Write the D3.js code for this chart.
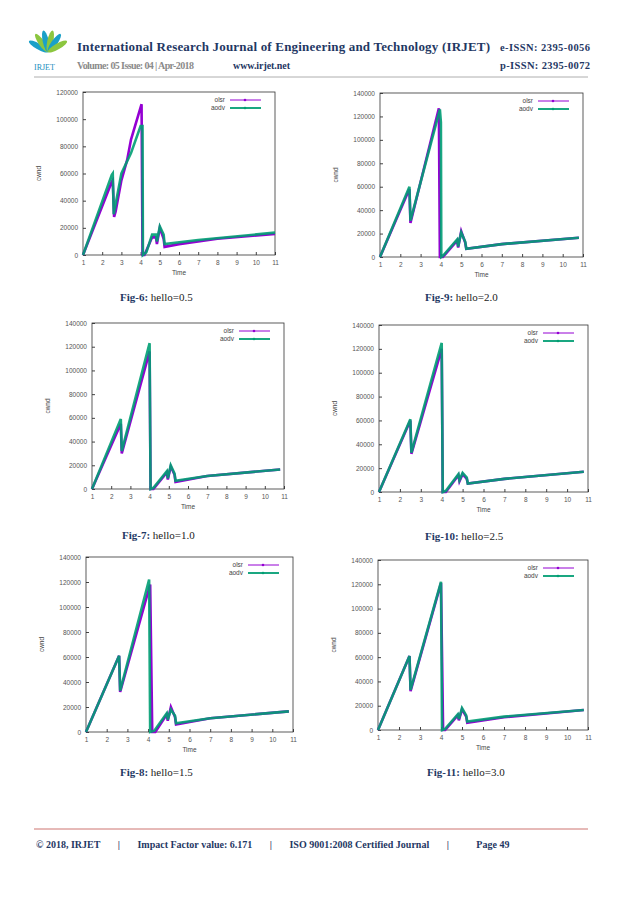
<!DOCTYPE html>
<html><head><meta charset="utf-8">
<script src="https://cdn.jsdelivr.net/npm/d3@7"></script>
<style>body{margin:0;background:#fff}svg{display:block}</style>
</head><body>
<svg id="page" width="638" height="902"></svg>
<script>
// panel data: [time, cwnd] points
const olsr6 = [[1,0],[2.5,54000],[2.55,55000],[2.62,28000],[2.7,32000],[3,55000],[3.3,70000],[3.5,85000],[4.05,111000],[4.1,0],[4.2,0],[4.6,13000],[4.8,13000],[4.85,8000],[5,20000],[5.2,12000],[5.25,6000],[6,8000],[8,12000],[11,15500]]
const aodv6 = [[1,0],[2.5,59000],[2.55,60000],[2.6,30000],[3,60000],[3.5,75000],[4,95000],[4.1,95000],[4.12,0],[4.3,2000],[4.6,15000],[4.8,15000],[4.85,10000],[5,21000],[5.2,15000],[5.25,8000],[7,11000],[11,16500]]
const olsr9 = [[1,0],[2.45,58000],[2.5,29000],[3.9,127000],[3.95,0],[4.1,0],[4.8,14000],[4.85,8000],[5,22000],[5.2,12000],[5.25,7000],[7,11000],[10.8,16500]]
const aodv9 = [[1,0],[2.45,60000],[2.5,31000],[3.95,126000],[4,115000],[4.02,0],[4.1,1000],[4.8,15000],[4.85,9000],[5,21000],[5.2,13000],[5.25,7000],[7,11000],[10.8,16500]]
const olsr7 = [[1,0],[2.5,55000],[2.55,30000],[4,116000],[4.05,0],[4.2,0],[4.9,14000],[4.95,8000],[5.1,19000],[5.3,12000],[5.35,6000],[7,11000],[10.8,16500]]
const aodv7 = [[1,0],[2.5,59000],[2.55,32000],[4,123000],[4.05,0],[4.2,1000],[4.9,15000],[4.95,9000],[5.1,20000],[5.3,13000],[5.35,7000],[7,11000],[10.8,16500]]
const olsr10 = [[1,0],[2.5,60000],[2.55,32000],[4,120000],[4.05,0],[4.2,0],[4.8,14000],[4.85,9000],[5,15000],[5.2,11000],[5.25,7000],[7,11000],[10.8,17000]]
const aodv10 = [[1,0],[2.5,61000],[2.55,33000],[4,125000],[4.05,0],[4.2,1000],[4.8,15000],[4.85,10000],[5,16000],[5.2,12000],[5.25,7000],[7,11000],[10.8,17000]]
const olsr8 = [[1,0],[2.6,61000],[2.65,32000],[4.1,118000],[4.2,0],[4.35,0],[4.9,14000],[4.95,9000],[5.1,20000],[5.3,12000],[5.35,6000],[7,11000],[10.8,16500]]
const aodv8 = [[1,0],[2.6,61000],[2.65,33000],[4.05,122000],[4.1,0],[4.3,1000],[4.9,15000],[4.95,10000],[5.1,18000],[5.3,13000],[5.35,7000],[7,11000],[10.8,16500]]
const olsr11 = [[1,0],[2.5,61000],[2.55,32000],[4,121000],[4.1,0],[4.2,0],[4.8,12000],[4.85,8000],[5,17000],[5.2,11000],[5.25,6000],[7,10500],[10.8,16500]]
const aodv11 = [[1,0],[2.5,61000],[2.55,33000],[4,122000],[4.05,0],[4.2,1000],[4.8,13000],[4.85,9000],[5,18000],[5.2,12000],[5.25,7000],[7,11000],[10.8,16500]]
const xTicks = [1,2,3,4,5,6,7,8,9,10,11]
const yTicks120 = [0,20000,40000,60000,80000,100000,120000]
const yTicks140 = [0,20000,40000,60000,80000,100000,120000,140000]
const captions = [['Fig-6:',' hello=0.5'],['Fig-9:',' hello=2.0'],['Fig-7:',' hello=1.0'],['Fig-10:',' hello=2.5'],['Fig-8:',' hello=1.5'],['Fig-11:',' hello=3.0']]

const svg = d3.select('#page')
const serif = "'Liberation Serif','DejaVu Serif',serif"
const sans = "'Liberation Sans','DejaVu Sans',sans-serif"
const olsrColor = '#9400d3', aodvColor = '#009e73'

// header
const logo = svg.append('g').attr('transform', 'translate(48,52)')
;[-60,-35,-12,12,35,60].forEach((a, i) => {
  logo.append('ellipse').attr('cx', 0).attr('cy', -11).attr('rx', 3).attr('ry', 11)
    .attr('fill', i % 2 ? '#8cc63f' : '#1aa0c8').attr('transform', 'rotate(' + a + ',0,0)')
})
svg.append('text').attr('x', 34).attr('y', 70).attr('font-family', serif).attr('font-size', 8).attr('fill', '#1a8fc0').text('IRJET')
svg.append('text').attr('x', 77).attr('y', 51).attr('font-family', serif).attr('font-weight', 'bold').attr('font-size', 13).attr('fill', '#1f3864').attr('textLength', 413).text('International Research Journal of Engineering and Technology (IRJET)')
svg.append('text').attr('x', 500).attr('y', 51).attr('font-family', serif).attr('font-weight', 'bold').attr('font-size', 10.5).attr('fill', '#1f3864').attr('textLength', 90).text('e-ISSN: 2395-0056')
svg.append('text').attr('x', 77).attr('y', 69).attr('font-family', serif).attr('font-weight', 'bold').attr('font-size', 10).attr('fill', '#8a8a8a').attr('textLength', 117).text('Volume: 05 Issue: 04 | Apr-2018')
svg.append('text').attr('x', 233).attr('y', 69).attr('font-family', serif).attr('font-weight', 'bold').attr('font-size', 10).attr('fill', '#1f3864').attr('textLength', 57).text('www.irjet.net')
svg.append('text').attr('x', 500).attr('y', 69).attr('font-family', serif).attr('font-weight', 'bold').attr('font-size', 10.5).attr('fill', '#1f3864').attr('textLength', 90).text('p-ISSN: 2395-0072')
svg.append('line').attr('x1', 34).attr('x2', 588).attr('y1', 77).attr('y2', 77).attr('stroke', '#999').attr('stroke-width', 0.8)

// footer
svg.append('line').attr('x1', 34).attr('x2', 588).attr('y1', 829).attr('y2', 829).attr('stroke', '#c0504d').attr('stroke-width', 0.8)
svg.append('text').attr('x', 36).attr('y', 848).attr('font-family', serif).attr('font-weight', 'bold').attr('font-size', 10).attr('fill', '#1f3864')
  .attr('xml:space', 'preserve').text('© 2018, IRJET       |       Impact Factor value: 6.171       |       ISO 9001:2008 Certified Journal       |           Page 49')

function panel (cfg, olsr, aodv, cap) {
  const x = d3.scaleLinear().domain([1, 11]).range([cfg.x0, cfg.x1])
  const y = d3.scaleLinear().domain([0, cfg.ymax]).range([cfg.y0, cfg.y1])
  const g = svg.append('g')
  g.append('g').attr('transform', 'translate(0,' + cfg.y0 + ')')
    .call(d3.axisBottom(x).tickValues(xTicks).tickFormat(d3.format('d')).tickSize(-3).tickPadding(5))
    .call(a => a.select('.domain').remove())
  g.append('g').attr('transform', 'translate(' + cfg.x0 + ',0)')
    .call(d3.axisLeft(y).tickValues(cfg.ymax === 120000 ? yTicks120 : yTicks140).tickFormat(d3.format('d')).tickSize(-3).tickPadding(5))
    .call(a => a.select('.domain').remove())
  g.selectAll('.tick text').attr('font-family', sans).attr('font-size', 6.5).attr('fill', '#555')
  g.selectAll('.tick line').attr('stroke', '#444')
  g.append('rect').attr('x', cfg.x0).attr('y', cfg.y1).attr('width', cfg.x1 - cfg.x0).attr('height', cfg.y0 - cfg.y1)
    .attr('fill', 'none').attr('stroke', '#333').attr('stroke-width', 0.8)
  const line = d3.line().x(d => x(d[0])).y(d => y(d[1]))
  g.append('path').datum(olsr).attr('d', line).attr('fill', 'none').attr('stroke', olsrColor).attr('stroke-width', 2.6)
  g.append('path').datum(aodv).attr('d', line).attr('fill', 'none').attr('stroke', aodvColor).attr('stroke-width', 2.6).attr('opacity', 0.9)
  // legend
  const lx = cfg.x1 - 50, ly = cfg.y1 + 8
  ;[['olsr', olsrColor], ['aodv', aodvColor]].forEach(([name, c], i) => {
    g.append('text').attr('x', lx).attr('y', ly + i * 8 + 2).attr('text-anchor', 'end').attr('font-family', sans).attr('font-size', 6.5).attr('fill', '#444').text(name)
    g.append('line').attr('x1', lx + 5).attr('x2', lx + 36).attr('y1', ly + i * 8).attr('y2', ly + i * 8).attr('stroke', c).attr('stroke-width', i ? 1.8 : 1)
    g.append('circle').attr('cx', lx + 20).attr('cy', ly + i * 8).attr('r', 1.3).attr('fill', c)
  })
  g.append('text').attr('x', (cfg.x0 + cfg.x1) / 2).attr('y', cfg.y0 + 20).attr('text-anchor', 'middle').attr('font-family', sans).attr('font-size', 6.5).attr('fill', '#444').text('Time')
  g.append('text').attr('transform', 'translate(' + (cfg.x0 - 42) + ',' + ((cfg.y0 + cfg.y1) / 2) + ') rotate(-90)').attr('text-anchor', 'middle').attr('font-family', sans).attr('font-size', 6.5).attr('fill', '#444').text('cwnd')
  const t = g.append('text').attr('x', cfg.cx).attr('y', cfg.cy).attr('font-family', serif).attr('font-size', 11).attr('fill', '#222')
  t.append('tspan').attr('font-weight', 'bold').attr('fill', '#1f3864').text(cap[0])
  t.append('tspan').text(cap[1])
}

panel({ x0: 83, x1: 275, y0: 255, y1: 92, ymax: 120000, cx: 120, cy: 301 }, olsr6, aodv6, captions[0])
panel({ x0: 380, x1: 583, y0: 257, y1: 93, ymax: 140000, cx: 425, cy: 301 }, olsr9, aodv9, captions[1])
panel({ x0: 92, x1: 284, y0: 489, y1: 323, ymax: 140000, cx: 122, cy: 539 }, olsr7, aodv7, captions[2])
panel({ x0: 379, x1: 588, y0: 492, y1: 325, ymax: 140000, cx: 425, cy: 540 }, olsr10, aodv10, captions[3])
panel({ x0: 86, x1: 293, y0: 732, y1: 557, ymax: 140000, cx: 120, cy: 776 }, olsr8, aodv8, captions[4])
panel({ x0: 378, x1: 588, y0: 730, y1: 560, ymax: 140000, cx: 427, cy: 776 }, olsr11, aodv11, captions[5])
</script>
</body></html>
